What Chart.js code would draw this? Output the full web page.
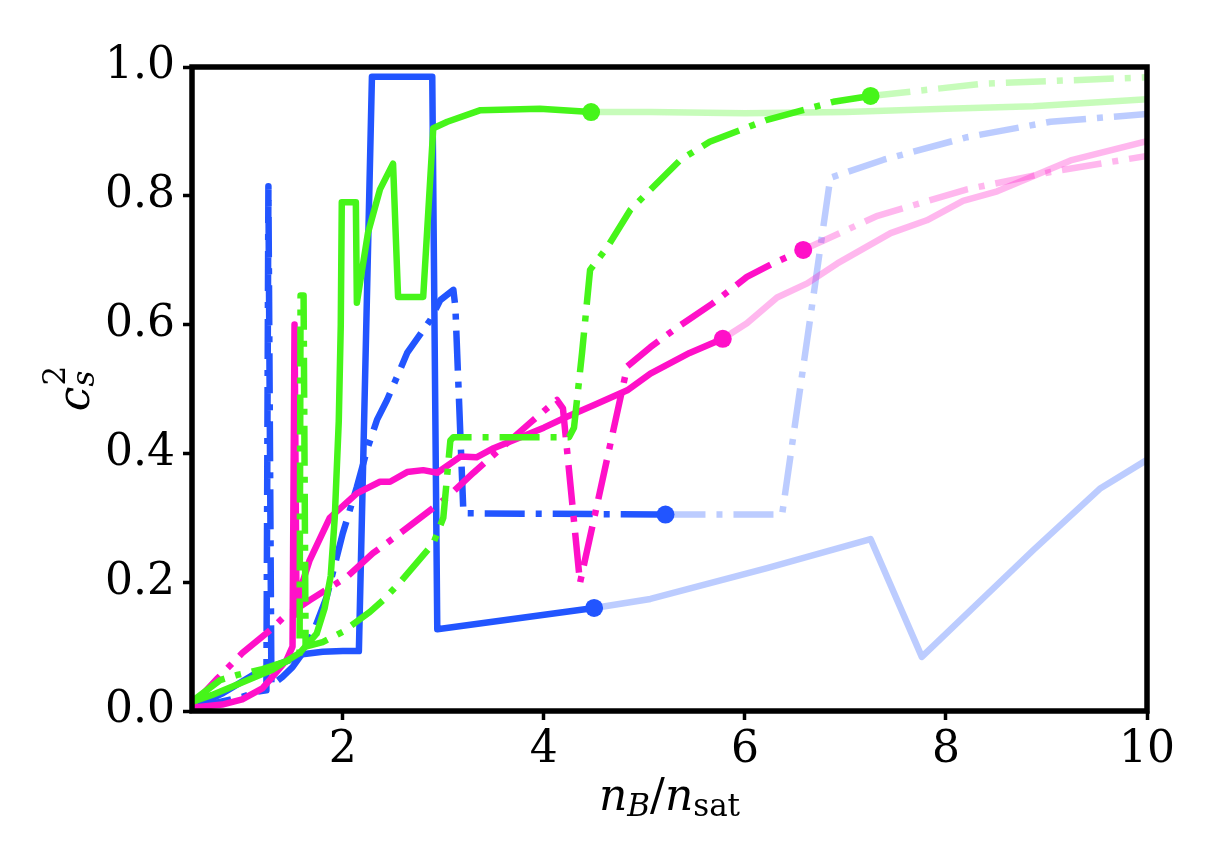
<!DOCTYPE html>
<html>
<head>
<meta charset="utf-8">
<script src="https://cdn.jsdelivr.net/npm/chart.js@4.4.0/dist/chart.umd.min.js"></script>
<style>
  body { margin: 0; background: #fff; }
  #wrap { width: 1224px; height: 864px; }
</style>
</head>
<body>
<div id="wrap"><canvas id="csChart"></canvas></div>
<script>
const xTicks = [2, 4, 6, 8, 10];
const yTicks = [0, 0.2, 0.4, 0.6, 0.8, 1.0];

// points are [n_B/n_sat, c_s^2]; the faded part continues from the marker
const blueSolid = [[0.5,0.005],[0.81,0.028],[1.15,0.06],[1.47,0.079],[1.6,0.088],[1.8,0.092],[2.0,0.093],[2.16,0.093],[2.29,0.985],[2.89,0.985],[2.94,0.127],[4.5,0.16]];
const blueSolidFaded = [[4.5,0.16],[5.06,0.174],[6.22,0.222],[7.25,0.267],[7.76,0.084],[8.87,0.25],[9.53,0.345],[10,0.39]];

const blueDashDot = [[0.5,0.005],[0.8,0.015],[1.0,0.022],[1.15,0.03],[1.24,0.032],[1.26,0.815],[1.29,0.04],[1.4,0.053],[1.5,0.068],[1.6,0.09],[1.7,0.12],[1.84,0.177],[2.0,0.276],[2.07,0.312],[2.14,0.348],[2.24,0.405],[2.34,0.452],[2.44,0.483],[2.57,0.53],[2.64,0.556],[2.87,0.607],[2.97,0.638],[3.1,0.654],[3.12,0.627],[3.2,0.307],[5.21,0.305]];
const blueDashDotFaded = [[5.21,0.305],[6.37,0.305],[6.85,0.828],[7.38,0.856],[8.21,0.891],[9.04,0.915],[10,0.927]];

const magentaSolid = [[0.5,0.005],[0.8,0.01],[1.0,0.018],[1.2,0.035],[1.3,0.053],[1.44,0.079],[1.5,0.1],[1.52,0.6],[1.54,0.15],[1.6,0.2],[1.67,0.234],[1.87,0.3],[2.14,0.338],[2.37,0.356],[2.47,0.356],[2.64,0.371],[2.8,0.374],[2.94,0.37],[3.17,0.395],[3.33,0.394],[3.5,0.408],[4.0,0.44],[4.23,0.457],[4.5,0.475],[4.83,0.498],[5.06,0.524],[5.45,0.556],[5.78,0.578]];
const magentaSolidFaded = [[5.78,0.578],[6.02,0.602],[6.32,0.642],[6.62,0.664],[6.92,0.695],[7.45,0.742],[7.81,0.762],[8.17,0.792],[8.51,0.807],[9.24,0.855],[10,0.885]];

const magentaDashDot = [[0.5,0.01],[0.6,0.025],[0.75,0.05],[1.0,0.09],[1.28,0.126],[1.4,0.144],[1.67,0.172],[2.04,0.208],[2.3,0.245],[2.57,0.276],[3.04,0.332],[3.3,0.37],[3.86,0.447],[4.13,0.483],[4.19,0.47],[4.36,0.199],[4.83,0.535],[5.06,0.565],[5.33,0.596],[5.68,0.633],[6.02,0.674],[6.28,0.695],[6.58,0.716]];
const magentaDashDotFaded = [[6.58,0.716],[7.32,0.769],[8.21,0.81],[9.04,0.837],[10,0.862]];

const greenSolid = [[0.5,0.014],[0.7,0.025],[0.98,0.043],[1.3,0.064],[1.57,0.09],[1.74,0.12],[1.82,0.16],[1.88,0.21],[1.92,0.3],[1.96,0.45],[1.98,0.6],[1.99,0.79],[2.13,0.79],[2.14,0.634],[2.25,0.742],[2.37,0.81],[2.5,0.85],[2.55,0.643],[2.8,0.643],[2.9,0.905],[3.04,0.915],[3.37,0.933],[3.96,0.935],[4.47,0.93]];
const greenSolidFaded = [[4.47,0.93],[5.06,0.93],[6.0,0.928],[7.0,0.93],[8.0,0.935],[8.87,0.939],[10,0.95]];

const greenDashDot = [[0.5,0.015],[0.78,0.048],[0.95,0.056],[1.2,0.065],[1.4,0.075],[1.57,0.085],[1.58,0.645],[1.61,0.645],[1.63,0.1],[1.8,0.107],[2.0,0.123],[2.27,0.154],[2.4,0.172],[2.57,0.2],[2.9,0.26],[3.0,0.3],[3.07,0.42],[3.1,0.425],[4.25,0.425],[4.3,0.44],[4.38,0.556],[4.46,0.685],[4.63,0.72],[4.86,0.778],[5.09,0.814],[5.36,0.856],[5.65,0.884],[6.22,0.918],[6.88,0.946],[7.25,0.955]];
const greenDashDotFaded = [[7.25,0.955],[8.37,0.974],[10,0.984]];

const BLUE = [34, 85, 255];
const MAGENTA = [255, 16, 200];
const GREEN = [70, 245, 26];

const dashDot = [40, 11, 6, 11];

function rgba(c, a) {
    return 'rgba(' + c[0] + ',' + c[1] + ',' + c[2] + ',' + a + ')';
}

function series(points, col, dashed, faded, order) {
    const last = points.length - 1;
    return {
        data: points.map(p => ({ x: p[0], y: p[1] })),
        borderColor: rgba(col, faded ? 0.3 : 1),
        borderWidth: 6.5,
        borderDash: dashed ? dashDot : [],
        borderCapStyle: dashed ? 'butt' : 'round',
        borderJoinStyle: 'round',
        tension: 0,
        fill: false,
        pointRadius: faded ? 0 : (ctx => ctx.dataIndex === last ? 9 : 0),
        pointBackgroundColor: rgba(col, 1),
        pointBorderWidth: 0,
        order: order
    };
}

const frame = {
    id: 'frame',
    afterDraw(chart) {
        const { ctx, chartArea: a } = chart;
        ctx.save();
        ctx.strokeStyle = '#000';
        ctx.lineWidth = 5.5;
        ctx.strokeRect(a.left, a.top, a.right - a.left, a.bottom - a.top);
        ctx.restore();
    }
};

const axisTitles = {
    id: 'axisTitles',
    afterDraw(chart) {
        const { ctx, chartArea: a } = chart;
        const size = 44, small = 31;
        const it = s => 'italic ' + s + 'px "DejaVu Serif"';
        const rm = s => s + 'px "DejaVu Serif"';
        ctx.save();
        ctx.fillStyle = '#000';
        ctx.textBaseline = 'alphabetic';
        ctx.textAlign = 'left';

        // n_B / n_sat
        const parts = [
            { t: 'n', f: it(size), dy: 0 },
            { t: 'B', f: it(small), dy: 6 },
            { t: '/', f: rm(size), dy: 0 },
            { t: 'n', f: it(size), dy: 0 },
            { t: 'sat', f: rm(small), dy: 6 }
        ];
        let total = 0;
        parts.forEach(p => { ctx.font = p.f; p.w = ctx.measureText(p.t).width; total += p.w; });
        let x = (a.left + a.right) / 2 - total / 2;
        parts.forEach(p => { ctx.font = p.f; ctx.fillText(p.t, x, 810 + p.dy); x += p.w; });

        // c_s^2, rotated
        ctx.translate(89, (a.top + a.bottom) / 2);
        ctx.rotate(-Math.PI / 2);
        ctx.font = it(size);
        const wc = ctx.measureText('c').width;
        ctx.font = it(small);
        const ws = ctx.measureText('s').width;
        ctx.font = rm(small);
        const w2 = ctx.measureText('2').width;
        const x0 = -(wc + Math.max(ws, w2)) / 2;
        ctx.font = it(size);
        ctx.fillText('c', x0, 0);
        ctx.font = it(small);
        ctx.fillText('s', x0 + wc, 5);
        ctx.font = rm(small);
        ctx.fillText('2', x0 + wc + 1, -24);
        ctx.restore();
    }
};

const tickFont = { family: 'DejaVu Serif', size: 44 };

new Chart(document.getElementById('csChart').getContext('2d'), {
    type: 'line',
    data: {
        datasets: [
            series(greenDashDot, GREEN, true, false, 1),
            series(greenSolid, GREEN, false, false, 1),
            series(magentaDashDot, MAGENTA, true, false, 2),
            series(magentaSolid, MAGENTA, false, false, 2),
            series(blueDashDot, BLUE, true, false, 3),
            series(blueSolid, BLUE, false, false, 3),
            series(greenDashDotFaded, GREEN, true, true, 4),
            series(greenSolidFaded, GREEN, false, true, 4),
            series(magentaDashDotFaded, MAGENTA, true, true, 5),
            series(magentaSolidFaded, MAGENTA, false, true, 5),
            series(blueDashDotFaded, BLUE, true, true, 6),
            series(blueSolidFaded, BLUE, false, true, 6)
        ]
    },
    options: {
        responsive: true,
        maintainAspectRatio: false,
        animation: false,
        layout: { padding: { left: 0, right: 77, top: 67, bottom: 0 } },
        plugins: {
            legend: { display: false },
            tooltip: { enabled: false }
        },
        scales: {
            x: {
                type: 'linear',
                min: 0.5,
                max: 10,
                afterBuildTicks: s => { s.ticks = xTicks.map(v => ({ value: v })); },
                afterFit: s => { s.height = 153; },
                border: { display: false },
                grid: { drawOnChartArea: false, drawTicks: true, tickLength: 9, tickWidth: 3.5, tickColor: '#000' },
                ticks: { color: '#000', font: tickFont, padding: 4, maxRotation: 0, callback: v => String(v) }
            },
            y: {
                min: 0,
                max: 1,
                afterBuildTicks: s => { s.ticks = yTicks.map(v => ({ value: v })); },
                afterFit: s => { s.width = 192; },
                border: { display: false },
                grid: { drawOnChartArea: false, drawTicks: true, tickLength: 9, tickWidth: 3.5, tickColor: '#000' },
                ticks: { color: '#000', font: tickFont, padding: 8, callback: v => v.toFixed(1) }
            }
        }
    },
    plugins: [frame, axisTitles]
});
</script>
</body>
</html>
